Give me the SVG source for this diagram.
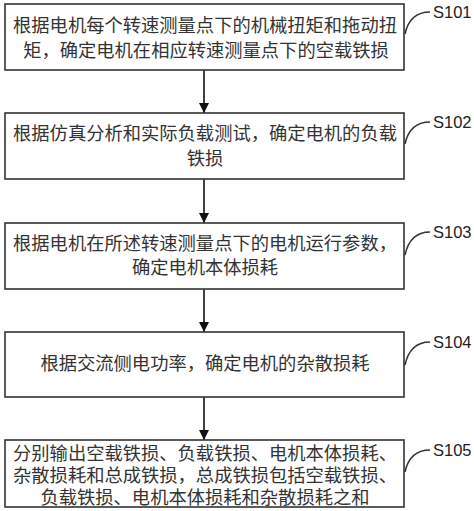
<svg xmlns="http://www.w3.org/2000/svg" width="474" height="511" viewBox="0 0 474 511">
<defs>
<style>
.box{fill:#fff;stroke:#333;stroke-width:1.6}
.t{font-family:"Noto Sans CJK SC","Noto Sans",sans-serif;font-size:18.3px;fill:#333;text-anchor:middle}
.lbl{font-family:"Liberation Sans","Noto Sans",sans-serif;font-size:16.5px;fill:#222}
.cv{fill:none;stroke:#333;stroke-width:1.5}
.ln{stroke:#111;stroke-width:1.6;fill:none}
</style>
<marker id="ah" viewBox="0 0 10 10" refX="10" refY="5" markerWidth="10" markerHeight="10" markerUnits="userSpaceOnUse" orient="auto">
<path d="M0,0 L10,5 L0,10 Z" fill="#111"/>
</marker>
</defs>
<rect width="474" height="511" fill="#fff"/>
<g id="connectors">
<line class="ln" x1="204" y1="70" x2="204" y2="113" marker-end="url(#ah)"/>
<line class="ln" x1="204" y1="179" x2="204" y2="223" marker-end="url(#ah)"/>
<line class="ln" x1="204" y1="289" x2="204" y2="332" marker-end="url(#ah)"/>
<line class="ln" x1="204" y1="397" x2="204" y2="440" marker-end="url(#ah)"/>
</g>
<g id="S101">
<rect class="box" x="5" y="4" width="399" height="66"/>
<text class="t" x="205" y="32">根据电机每个转速测量点下的机械扭矩和拖动扭</text>
<text class="t" x="206" y="57">矩，确定电机在相应转速测量点下的空载铁损</text>
<path class="cv" d="M405,34 C408,20 416,12 430,12"/>
<text class="lbl" x="433" y="18">S101</text>
</g>
<g id="S102">
<rect class="box" x="5" y="113" width="399" height="66"/>
<text class="t" x="205" y="140">根据仿真分析和实际负载测试，确定电机的负载</text>
<text class="t" x="205" y="165">铁损</text>
<path class="cv" d="M405,144 C408,130 416,122 430,122"/>
<text class="lbl" x="433" y="128">S102</text>
</g>
<g id="S103">
<rect class="box" x="5" y="223" width="399" height="66"/>
<text class="t" x="205" y="250">根据电机在所述转速测量点下的电机运行参数，</text>
<text class="t" x="205" y="274">确定电机本体损耗</text>
<path class="cv" d="M405,255 C408,241 416,232 430,232"/>
<text class="lbl" x="433" y="238">S103</text>
</g>
<g id="S104">
<rect class="box" x="5" y="332" width="399" height="65"/>
<text class="t" x="205" y="370">根据交流侧电功率，确定电机的杂散损耗</text>
<path class="cv" d="M405,365 C408,351 416,342 430,342"/>
<text class="lbl" x="433" y="348">S104</text>
</g>
<g id="S105">
<rect class="box" x="5" y="440" width="399" height="67"/>
<text class="t" x="205" y="460">分别输出空载铁损、负载铁损、电机本体损耗、</text>
<text class="t" x="205" y="482">杂散损耗和总成铁损，总成铁损包括空载铁损、</text>
<text class="t" x="205" y="504">负载铁损、电机本体损耗和杂散损耗之和</text>
<path class="cv" d="M405,472 C408,458 416,450 430,450"/>
<text class="lbl" x="433" y="456">S105</text>
</g>
</svg>
